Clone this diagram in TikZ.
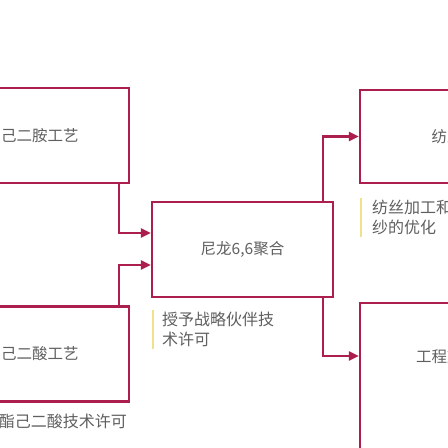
\documentclass[tikz,border=0pt]{standalone}
\usepackage{fontspec}
\usepackage{tikz}
\usetikzlibrary{arrows.meta}
\newfontfamily\cjk{Noto Sans CJK SC}

\begin{document}
\begin{tikzpicture}[x=1pt,y=-1pt,>={Triangle[length=10pt,width=9pt]},
  proc/.style={draw=crimson, line width=2.2pt, fill=white, inner sep=0pt,
    minimum width=178pt, minimum height=95pt, text=txtgray,
    font=\cjk\fontsize{15.5}{18}\selectfont},
  capnote/.style={inner sep=0pt, align=left, text=txtgray,
    font=\cjk\fontsize{16}{20}\selectfont},
  flow/.style={->, draw=crimson, line width=2.2pt},
  capbar/.style={draw=baryellow, line width=2.2pt}]
\definecolor{crimson}{RGB}{172,30,78} % box and arrow colour
\definecolor{txtgray}{RGB}{95,95,95}
\definecolor{baryellow}{RGB}{240,226,140}
\useasboundingbox[fill=white] (0,0) rectangle (448,448);

\node[proc] (topL) at (40,135.5) {己二胺工艺};
\node[proc] (botL) at (40,354) {己二酸工艺};
\node[proc, minimum width=181pt] (poly) at (242.5,249.5) {尼龙6,6聚合};
\node[proc, minimum width=174pt, minimum height=93pt] (topR) at (447,136.5) {纺丝};
\node[proc, minimum width=174pt, minimum height=167pt] (botR) at (447,386.5) {};
\node[text=txtgray, font=\cjk\fontsize{15.5}{18}\selectfont] (botRtxt) at (447,357) {工程塑料};

% captions
\node[capnote, anchor=east] (capL) at (127,421) {酯己二酸技术许可};
\node[capnote, anchor=north west] (capMid) at (162,312) {授予战略伙伴技\\术许可};
\node[capnote, anchor=north west] (capR) at (372,200) {纺丝加工和纺\\纱的优化};
\draw[capbar] ([xshift=-9pt,yshift=2pt]capMid.north west) -- ([xshift=-9pt,yshift=-2pt]capMid.south west);
\draw[capbar] ([xshift=-11pt,yshift=2pt]capR.north west) -- ([xshift=-11pt,yshift=-2pt]capR.south west);

% connectors
\draw[flow] ([xshift=-11pt]topL.south east) |- ([yshift=16.5pt]poly.west);
\draw[flow] ([xshift=-11pt]botL.north east) |- ([yshift=-15.5pt]poly.west);
\draw[flow] ([xshift=-11pt]poly.north east) |- (topR.west);
\draw[flow] ([xshift=-11pt]poly.south east) |- ([yshift=30.5pt]botR.west);
\end{tikzpicture}
\end{document}
